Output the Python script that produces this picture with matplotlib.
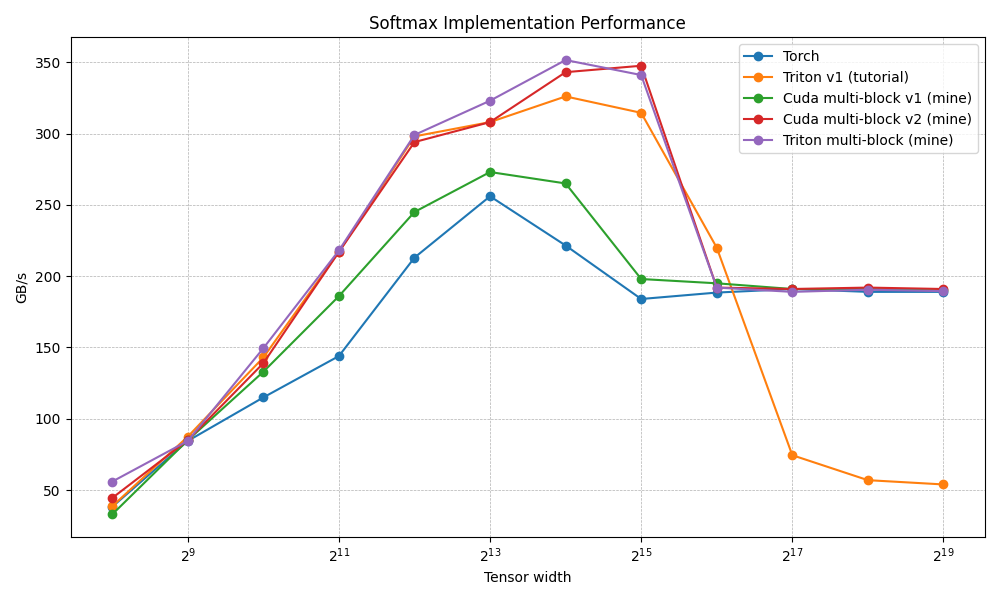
import matplotlib
matplotlib.use("Agg")
import matplotlib.pyplot as plt

exponents = list(range(8, 20))
widths = [2 ** e for e in exponents]

torch = [38.3, 84.5, 115, 144, 213, 256, 221.5, 184, 188.5, 191, 189, 189]
triton_v1 = [38.7, 87.5, 143, 217, 298, 308, 326, 314.5, 220, 74.5, 57, 54]
cuda_v1 = [33, 85, 133, 186, 245, 273, 265, 198, 195, 191, 191, 190]
cuda_v2 = [44.5, 85, 139, 217, 294, 308, 343, 347.5, 192, 191, 192, 191]
triton_mb = [56, 84.5, 149.5, 218, 299, 323, 351.5, 341, 192, 189, 190.5, 189.5]

labels = ["Torch", "Triton v1 (tutorial)", "Cuda multi-block v1 (mine)",
          "Cuda multi-block v2 (mine)", "Triton multi-block (mine)"]
series = [torch, triton_v1, cuda_v1, cuda_v2, triton_mb]

fig, ax = plt.subplots(figsize=(10, 6), dpi=100)
for vals, lab in zip(series, labels):
    ax.plot(widths, vals, marker="o", label=lab)
ax.set_xscale("log", base=2)
ax.set_xlabel("Tensor width")
ax.set_ylabel("GB/s")
ax.set_title("Softmax Implementation Performance")
ax.grid(True, which="major", linestyle="--", linewidth=0.5)
ax.legend(loc="upper right")
fig.tight_layout()
fig.savefig("out.png")
